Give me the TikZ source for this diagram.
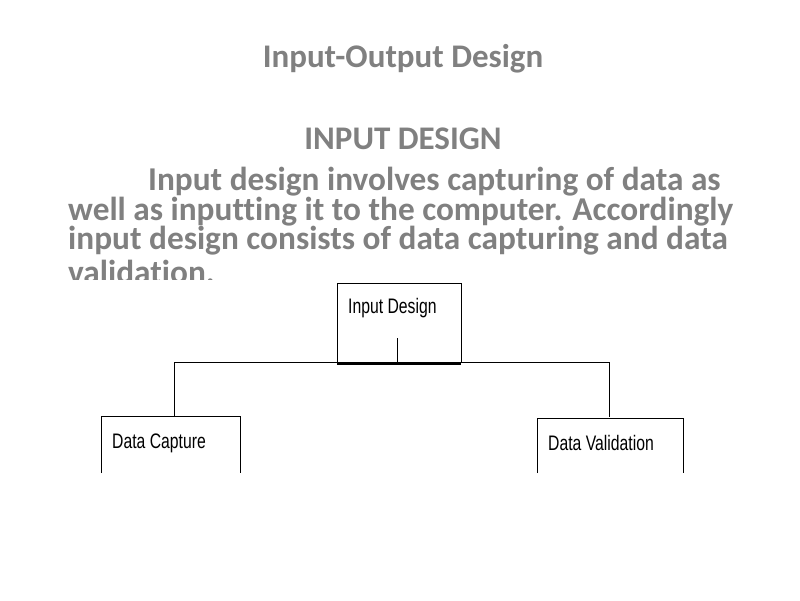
\documentclass[tikz,border=0pt]{standalone}
\usepackage{fontspec}
\setmainfont[Ligatures=NoCommon]{Carlito}
\newfontfamily\narrowf{Liberation Sans}
\definecolor{tg}{RGB}{128,128,128}
\begin{document}
\begin{tikzpicture}[x=1pt,y=-1pt,
  ttl/.style={text=tg,font=\bfseries\fontsize{33}{35}\selectfont,inner sep=0},
  para/.style={text=tg,font=\bfseries\fontsize{33.3}{35}\selectfont,inner sep=0,anchor=base west},
  lbl/.style={font=\narrowf\fontsize{21}{23}\selectfont,xscale=0.75,inner sep=0,anchor=west},
  ln/.style={line width=1pt}]
\useasboundingbox[fill=white] (0,0) rectangle (800,600);
\node[ttl] (t1) at (403,59) {Input-Output Design};
\node[ttl] (t2) at (403,139) {INPUT DESIGN};
\node[para] (p1) at (148,190) {Input design involves capturing of data as};
\node[para] (p2) at (68,220) {well as inputting it to the computer. Accordingly};
\node[para] (p3) at (68,249) {input design consists of data capturing and data};
\node[para] (p4) at (68,283) {validation.};
\fill[white] (0,280) rectangle (800,600);
% boxes
\coordinate (a1) at (337,363); \coordinate (a2) at (337,283);
\coordinate (a3) at (461,283); \coordinate (a4) at (461,363);
\draw[ln] (a1) -- (a2) -- (a3) -- (a4);
\draw[line width=3pt] (a1) -- (a4);
\node[lbl] (l1) at (348,308) {Input Design};
\coordinate (s1) at (397,338); \coordinate (s2) at (397,362);
\draw[ln] (s1) -- (s2);
\coordinate (h1) at (174,416); \coordinate (h2) at (174,362);
\coordinate (h3) at (609,362); \coordinate (h4) at (609,417);
\draw[ln] (h1) -- (h2) -- (h3) -- (h4);
\coordinate (b1) at (101,473); \coordinate (b2) at (101,416);
\coordinate (b3) at (240,416); \coordinate (b4) at (240,473);
\draw[ln] (b1) -- (b2) -- (b3) -- (b4);
\node[lbl] (l2) at (112,443) {Data Capture};
\coordinate (c1) at (537,473); \coordinate (c2) at (537,418);
\coordinate (c3) at (683,418); \coordinate (c4) at (683,473);
\draw[ln] (c1) -- (c2) -- (c3) -- (c4);
\node[lbl] (l3) at (548,443) {Data Validation};
\end{tikzpicture}
\end{document}
